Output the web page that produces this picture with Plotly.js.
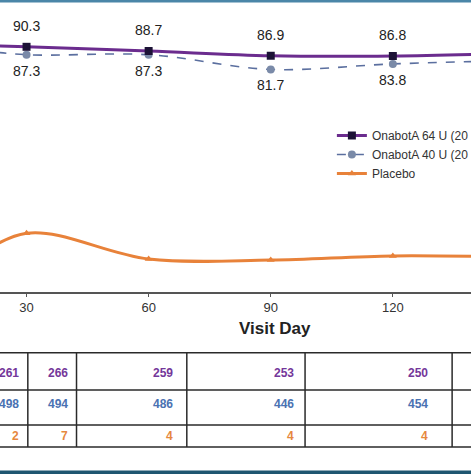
<!DOCTYPE html>
<html>
<head>
<meta charset="utf-8">
<script src="https://cdn.plot.ly/plotly-3.0.1.min.js"></script>
<style>html,body{margin:0;padding:0;background:#fff;}#chart{width:474px;height:474px;}</style>
</head>
<body>
<div id="chart"></div>
<script>
// ---- data ----
const visitDays = [14, 30, 60, 90, 120, 150];
const onabot64 = [91.0, 90.3, 88.7, 86.9, 86.8, 87.8];
const onabot40 = [89.8, 87.3, 87.3, 81.7, 83.8, 85.1];
const placebo = [6.0, 19.4, 9.6, 9.2, 10.8, 10.3];
const seriesNames = ['OnabotA 64 U (20', 'OnabotA 40 U (20', 'Placebo'];
const xTicks = [30, 60, 90, 120];
const xTitle = 'Visit Day';
const tableRow64 = ['261', '266', '259', '253', '250'];
const tableRow40 = ['498', '494', '486', '446', '454'];
const tableRowPlacebo = ['2', '7', '4', '4', '4'];

// ---- layout constants ----
const W = 474, H = 474, plotBottom = 292;
const xRange = [23.48, 139.2];
const yRange = [-2.93, 108.1];
const px = v => v / W;
const py = v => (plotBottom - v) / plotBottom;
const FONT = 'Liberation Sans, Arial, Helvetica, sans-serif';
const cPurple = '#6b2c8e', cBlue = '#5b6f9f', cOrange = '#e8823a';
const tPurple = '#74379a', tBlue = '#4a72b2', tOrange = '#e6883e';

const traces = [
  {x: visitDays, y: onabot40, name: seriesNames[1], type: 'scatter', mode: 'lines+markers',
   line: {color: cBlue, width: 1.6, dash: 'dash', shape: 'spline'},
   marker: {symbol: 'circle', size: 8, color: '#7a8aa8'}},
  {x: visitDays, y: onabot64, name: seriesNames[0], type: 'scatter', mode: 'lines+markers',
   line: {color: cPurple, width: 3, shape: 'spline'},
   marker: {symbol: 'square', size: 8, color: '#1c1236'}},
  {x: visitDays, y: placebo, name: seriesNames[2], type: 'scatter', mode: 'lines+markers',
   line: {color: cOrange, width: 3, shape: 'spline'},
   marker: {symbol: 'triangle-up', size: 7, color: cOrange}}
];

const annotations = [];
const inView = d => d >= xRange[0] && d <= xRange[1];
visitDays.forEach((d, i) => {
  if (!inView(d)) return;
  annotations.push({x: d, y: onabot64[i], xref: 'x', yref: 'y', text: onabot64[i].toFixed(1),
    showarrow: false, yshift: 21, font: {family: FONT, size: 14, color: '#222'}});
  annotations.push({x: d, y: onabot40[i], xref: 'x', yref: 'y', text: onabot40[i].toFixed(1),
    showarrow: false, yshift: -16, font: {family: FONT, size: 14, color: '#222'}});
});
annotations.push({x: px(277), y: py(328), xref: 'paper', yref: 'paper', xanchor: 'center', yanchor: 'middle',
  text: '<b>' + xTitle + '</b>', showarrow: false, font: {family: FONT, size: 17, color: '#222'}});

const colRight = [21.5, 70.5, 176, 297.5, 432.5];
const rowY = [373.3, 404, 436];
const rows = [[tableRow64, tPurple], [tableRow40, tBlue], [tableRowPlacebo, tOrange]];
rows.forEach(([vals, col], r) => {
  vals.forEach((v, j) => {
    annotations.push({x: px(colRight[j]), y: py(rowY[r]), xref: 'paper', yref: 'paper',
      xanchor: 'right', yanchor: 'middle', text: '<b>' + v + '</b>', showarrow: false,
      font: {family: FONT, size: 12, color: col}});
  });
});

const shapes = [];
const hLines = [352.7, 390, 425, 447];
const vLines = [28, 77, 188, 307, 455];
hLines.forEach(h => shapes.push({type: 'line', xref: 'paper', yref: 'paper', x0: 0, x1: 1, y0: py(h), y1: py(h),
  line: {color: '#2a2a2a', width: 1.5}}));
vLines.forEach(v => shapes.push({type: 'line', xref: 'paper', yref: 'paper', x0: px(v), x1: px(v),
  y0: py(hLines[0]), y1: py(hLines[hLines.length - 1]), line: {color: '#2a2a2a', width: 1.5}}));
shapes.push({type: 'rect', xref: 'paper', yref: 'paper', x0: 0, x1: 1, y0: py(0), y1: py(2.5),
  fillcolor: '#4a86a8', line: {width: 0}});
shapes.push({type: 'rect', xref: 'paper', yref: 'paper', x0: 0, x1: 1, y0: py(470.5), y1: py(474),
  fillcolor: '#1e5670', line: {width: 0}});

const layout = {
  width: W, height: H,
  margin: {l: 0, r: 0, t: 0, b: H - plotBottom, pad: 0},
  paper_bgcolor: '#ffffff', plot_bgcolor: '#ffffff',
  font: {family: FONT, color: '#333'},
  showlegend: true,
  legend: {x: px(334), y: py(121), xanchor: 'left', yanchor: 'top', bgcolor: 'rgba(0,0,0,0)',
    traceorder: 'normal', font: {family: FONT, size: 12, color: '#333'}},
  xaxis: {range: xRange, tickvals: xTicks, ticktext: xTicks.map(String), showgrid: false, zeroline: false,
    showline: true, linecolor: '#555', linewidth: 1.5, ticks: 'outside', ticklen: 3, tickcolor: '#555',
    tickfont: {family: FONT, size: 13, color: '#333'}, fixedrange: true},
  yaxis: {range: yRange, visible: false, fixedrange: true},
  annotations: annotations,
  shapes: shapes
};

// legend order: 64 U, 40 U, Placebo
traces[1].legendrank = 1; traces[0].legendrank = 2; traces[2].legendrank = 3;

Plotly.newPlot('chart', traces, layout, {displayModeBar: false, staticPlot: true});
</script>
</body>
</html>
